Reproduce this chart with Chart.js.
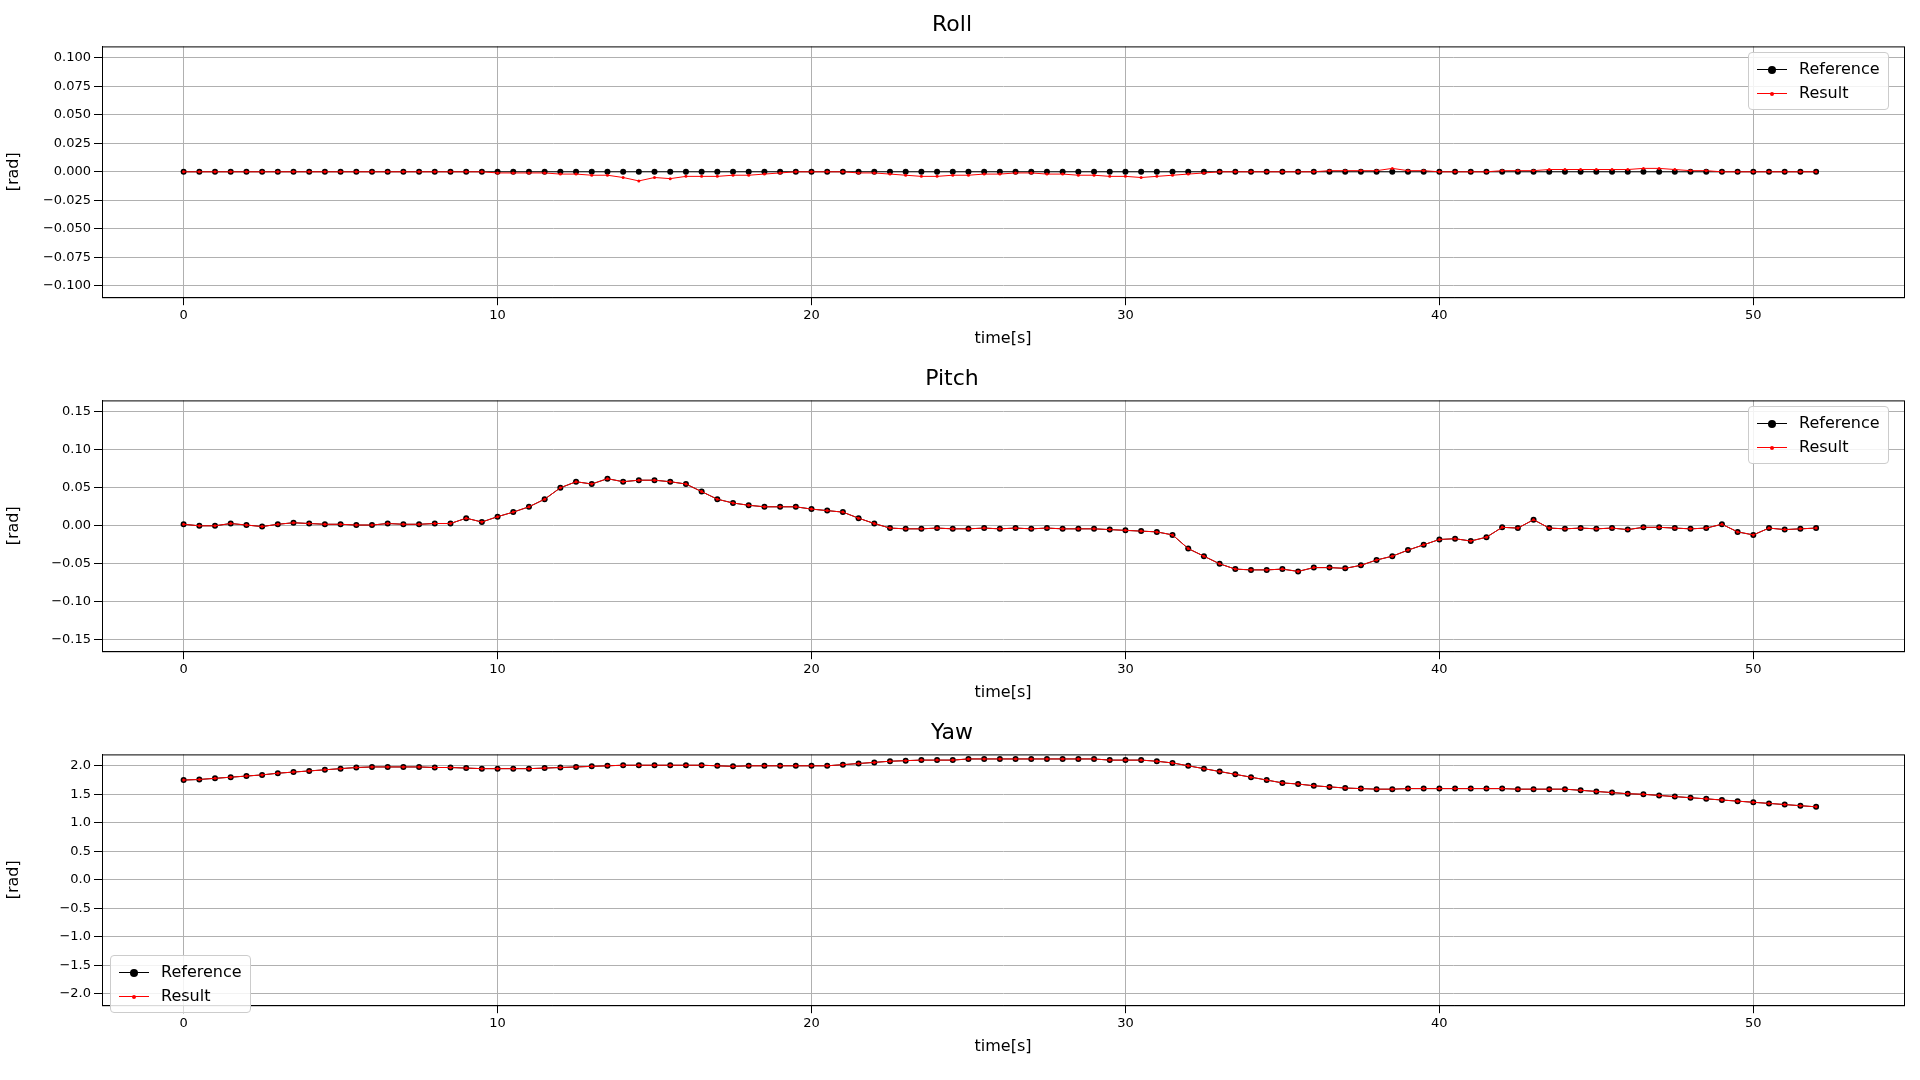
<!DOCTYPE html>
<html>
<head>
<meta charset="utf-8">
<script src="https://cdn.jsdelivr.net/npm/chart.js@4.4.0/dist/chart.umd.min.js"></script>
<style>
  body { margin: 0; background: #fff; font-family: "DejaVu Sans", sans-serif; }
  .panel { position: absolute; left: 0; width: 1920px; height: 354px; }
  .legend { position: absolute; background: rgba(255,255,255,0.85); border: 1px solid #ccc; border-radius: 4px;
            padding: 4px 8px; font-size: 16px; line-height: 24px; }
  .legend div { display: flex; align-items: center; }
  .sw { position: relative; width: 30px; height: 2px; margin-right: 12px; }
  .sw span { position: absolute; left: 11px; top: -3px; width: 8px; height: 8px; border-radius: 50%; }
</style>
</head>
<body>
<div class="panel" style="top:0"><canvas id="chart1"></canvas></div>
<div class="panel" style="top:354px"><canvas id="chart2"></canvas></div>
<div class="panel" style="top:708px"><canvas id="chart3"></canvas></div>

<div class="legend" style="left:1748px;top:52px">
  <div><div class="sw" style="background:#000;height:1px"><span style="background:#000;top:-3px"></span></div>Reference</div>
  <div><div class="sw" style="background:red;height:1px"><span style="background:red;width:4px;height:4px;left:13px;top:-1px"></span></div>Result</div>
</div>
<div class="legend" style="left:1748px;top:406px">
  <div><div class="sw" style="background:#000;height:1px"><span style="background:#000;top:-3px"></span></div>Reference</div>
  <div><div class="sw" style="background:red;height:1px"><span style="background:red;width:4px;height:4px;left:13px;top:-1px"></span></div>Result</div>
</div>
<div class="legend" style="left:110px;top:955px">
  <div><div class="sw" style="background:#000;height:1px"><span style="background:#000;top:-3px"></span></div>Reference</div>
  <div><div class="sw" style="background:red;height:1px"><span style="background:red;width:4px;height:4px;left:13px;top:-1px"></span></div>Result</div>
</div>

<script>
const timeS = [0,0.5,1,1.5,2,2.5,3,3.5,4,4.5,5,5.5,6,6.5,7,7.5,8,8.5,9,9.5,10,10.5,11,11.5,12,12.5,13,13.5,14,14.5,15,15.5,16,16.5,17,17.5,18,18.5,19,19.5,20,20.5,21,21.5,22,22.5,23,23.5,24,24.5,25,25.5,26,26.5,27,27.5,28,28.5,29,29.5,30,30.5,31,31.5,32,32.5,33,33.5,34,34.5,35,35.5,36,36.5,37,37.5,38,38.5,39,39.5,40,40.5,41,41.5,42,42.5,43,43.5,44,44.5,45,45.5,46,46.5,47,47.5,48,48.5,49,49.5,50,50.5,51,51.5,52];

const rollRef = [0,0,0,0,0,0,0,0,0,0,0,0,0,0,0,0,0,0,0,0,0,0,0,0,0,0,0,0,0,0,0,0,0,0,0,0,0,0,0,0,0,0,0,0,0,0,0,0,0,0,0,0,0,0,0,0,0,0,0,0,0,0,0,0,0,0,0,0,0,0,0,0,0,0,0,0,0,0,0,0,0,0,0,0,0,0,0,0,0,0,0,0,0,0,0,0,0,0,0,0,0,0,0,0,0];
const rollRes = [0,0,0,0,0,0,0,0,0,0,0,0,0,0,0,0,0,0,0,0,-0.001,-0.001,-0.001,-0.001,-0.002,-0.002,-0.003,-0.003,-0.005,-0.008,-0.005,-0.006,-0.004,-0.004,-0.004,-0.003,-0.003,-0.002,-0.001,0,0,0,0,-0.001,-0.001,-0.002,-0.003,-0.004,-0.004,-0.003,-0.003,-0.002,-0.002,-0.001,-0.001,-0.002,-0.002,-0.003,-0.003,-0.004,-0.004,-0.005,-0.004,-0.003,-0.002,-0.001,0,0,0,0,0,0,0,0.001,0.001,0.001,0.001,0.003,0.001,0.001,0,0,0,0,0.001,0.001,0.001,0.002,0.002,0.002,0.002,0.002,0.002,0.003,0.003,0.002,0.001,0.001,0,0,0,0,0,0,0];

const pitchRef = [0.002,0,0,0.003,0.001,-0.001,0.002,0.004,0.003,0.002,0.002,0.001,0.001,0.003,0.002,0.002,0.003,0.003,0.010,0.005,0.012,0.018,0.025,0.035,0.050,0.058,0.055,0.062,0.058,0.060,0.060,0.058,0.055,0.045,0.035,0.030,0.027,0.025,0.025,0.025,0.022,0.020,0.018,0.010,0.003,-0.003,-0.004,-0.004,-0.003,-0.004,-0.004,-0.003,-0.004,-0.003,-0.004,-0.003,-0.004,-0.004,-0.004,-0.005,-0.006,-0.007,-0.008,-0.012,-0.030,-0.040,-0.050,-0.057,-0.058,-0.058,-0.057,-0.060,-0.055,-0.055,-0.056,-0.052,-0.045,-0.040,-0.032,-0.025,-0.018,-0.017,-0.020,-0.015,-0.002,-0.003,0.008,-0.003,-0.004,-0.003,-0.004,-0.003,-0.005,-0.002,-0.002,-0.003,-0.004,-0.003,0.002,-0.008,-0.012,-0.003,-0.005,-0.004,-0.003];
const pitchRes = [0.002,0,0,0.003,0.001,-0.001,0.002,0.004,0.003,0.002,0.002,0.001,0.001,0.003,0.002,0.002,0.003,0.003,0.010,0.005,0.012,0.018,0.025,0.035,0.050,0.058,0.055,0.062,0.058,0.060,0.060,0.058,0.055,0.045,0.035,0.030,0.027,0.025,0.025,0.025,0.022,0.020,0.018,0.010,0.003,-0.003,-0.004,-0.004,-0.003,-0.004,-0.004,-0.003,-0.004,-0.003,-0.004,-0.003,-0.004,-0.004,-0.004,-0.005,-0.006,-0.007,-0.008,-0.012,-0.030,-0.040,-0.050,-0.057,-0.058,-0.058,-0.057,-0.060,-0.055,-0.055,-0.056,-0.052,-0.045,-0.040,-0.032,-0.025,-0.018,-0.017,-0.020,-0.015,-0.002,-0.003,0.008,-0.003,-0.004,-0.003,-0.004,-0.003,-0.005,-0.002,-0.002,-0.003,-0.004,-0.003,0.002,-0.008,-0.012,-0.003,-0.005,-0.004,-0.003];

const yawRef = [1.75,1.76,1.78,1.80,1.82,1.84,1.87,1.89,1.91,1.93,1.95,1.97,1.98,1.98,1.98,1.98,1.97,1.97,1.96,1.95,1.95,1.95,1.95,1.96,1.97,1.98,1.99,2.00,2.01,2.01,2.01,2.01,2.01,2.01,2.00,1.99,2.00,2.00,2.00,2.00,2.00,2.00,2.02,2.04,2.06,2.08,2.09,2.10,2.10,2.10,2.12,2.12,2.12,2.12,2.12,2.12,2.12,2.12,2.12,2.10,2.10,2.10,2.08,2.05,2.00,1.95,1.90,1.85,1.80,1.75,1.70,1.68,1.65,1.63,1.61,1.60,1.59,1.59,1.60,1.60,1.60,1.60,1.60,1.60,1.60,1.59,1.59,1.59,1.59,1.57,1.55,1.53,1.51,1.50,1.48,1.46,1.44,1.42,1.40,1.38,1.36,1.34,1.32,1.30,1.28];
const yawRes = yawRef.slice();

const rollTicks = [-0.1,-0.075,-0.05,-0.025,0,0.025,0.05,0.075,0.1];
const pitchTicks = [-0.15,-0.1,-0.05,0,0.05,0.1,0.15];
const yawTicks = [-2,-1.5,-1,-0.5,0,0.5,1,1.5,2];
const timeTicks = [0,10,20,30,40,50];

Chart.defaults.font.family = "DejaVu Sans";
Chart.defaults.color = "#000";

// full frame around plot area, like matplotlib spines
const frame = {
  id: 'frame',
  afterDraw(chart) {
    const a = chart.chartArea, c = chart.ctx;
    c.save(); c.strokeStyle = '#000'; c.lineWidth = 1;
    c.strokeRect(a.left + 0.5, a.top + 0.5, a.right - a.left, a.bottom - a.top);
    c.restore();
  }
};

function pts(x, y){ return x.map((t, i) => ({x: t, y: y[i]})); }

function makeChart(id, title, ref, res, yMin, yMax, yTicks, dec){
  new Chart(document.getElementById(id), {
    type: 'line',
    plugins: [frame],
    data: {
      datasets: [
        { label: 'Result', data: pts(timeS, res), borderColor: 'red', backgroundColor: 'red',
          borderWidth: 1, pointRadius: 1.5, pointBorderWidth: 0, order: 1 },
        { label: 'Reference', data: pts(timeS, ref), borderColor: '#000', backgroundColor: '#000',
          borderWidth: 1, pointRadius: 3, pointBorderWidth: 0, order: 2 },
      ]
    },
    options: {
      responsive: true, maintainAspectRatio: false, animation: false,
      layout: { padding: { left: 0, right: 16, top: 0, bottom: 4 } },
      plugins: {
        legend: { display: false },
        title: { display: true, text: title, font: { size: 22, weight: 'normal' }, padding: { top: 12, bottom: 8 } },
      },
      scales: {
        x: {
          type: 'linear', min: -2.6, max: 54.8,
          afterBuildTicks: s => { s.ticks = timeTicks.map(v => ({value: v})); },
          ticks: { font: { size: 13 }, maxRotation: 0 },
          grid: { color: '#b0b0b0', tickColor: '#000' },
          border: { color: '#000' },
          title: { display: true, text: 'time[s]', font: { size: 16 }, padding: 2 },
        },
        y: {
          min: yMin, max: yMax,
          afterBuildTicks: s => { s.ticks = yTicks.map(v => ({value: v})); },
          afterFit: s => { s.width = 102; },
          ticks: { font: { size: 13 }, callback: v => v.toFixed(dec).replace('-', '\u2212') },
          grid: { color: '#b0b0b0', tickColor: '#000' },
          border: { color: '#000' },
          title: { display: true, text: '[rad]', font: { size: 16 } },
        }
      }
    }
  });
}

makeChart('chart1', 'Roll', rollRef, rollRes, -0.11, 0.11, rollTicks, 3);
makeChart('chart2', 'Pitch', pitchRef, pitchRes, -0.165, 0.165, pitchTicks, 2);
makeChart('chart3', 'Yaw', yawRef, yawRes, -2.2, 2.2, yawTicks, 1);
</script>
</body>
</html>
